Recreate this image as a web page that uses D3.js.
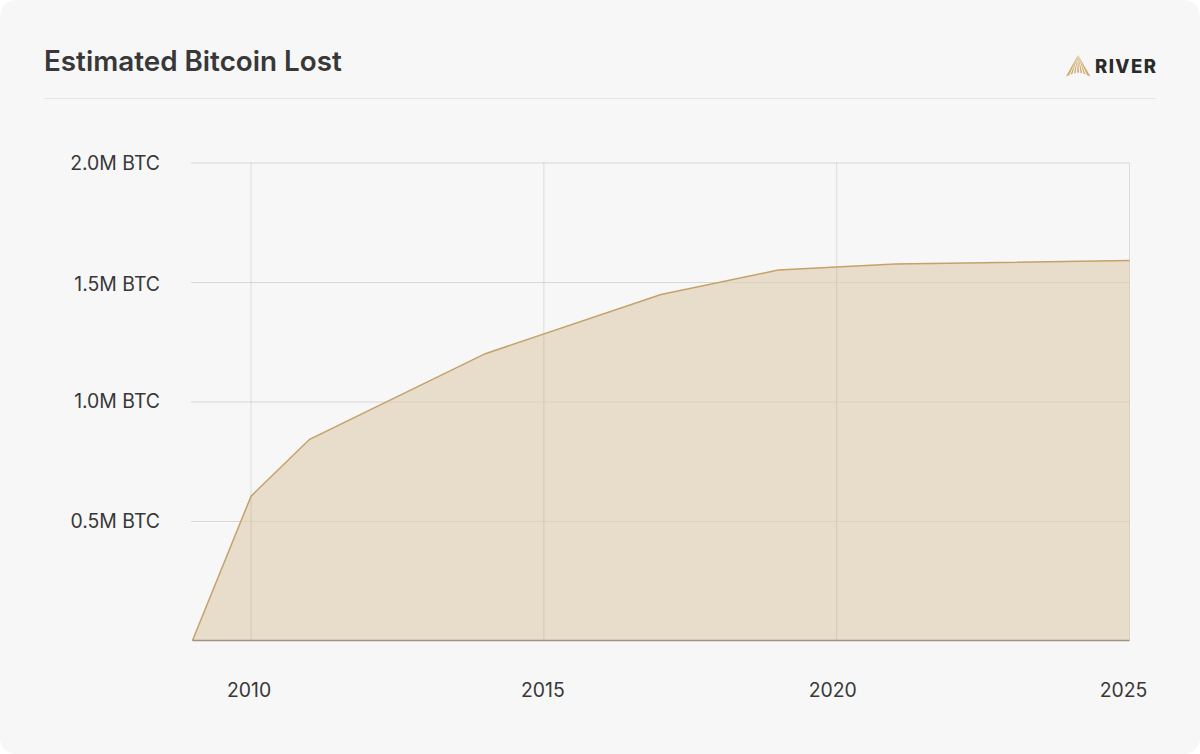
<!DOCTYPE html>
<html>
<head>
<meta charset="utf-8">
<script src="https://cdn.jsdelivr.net/npm/d3@7"></script>
<style>
  html, body { margin: 0; padding: 0; background: #ffffff; }
  svg { display: block; font-family: Inter, "Noto Sans", sans-serif; }
</style>
</head>
<body>
<svg id="chart"></svg>
<script>
var years = [2009, 2010, 2011, 2014, 2017, 2019, 2021, 2025];
var lost = [0, 0.604, 0.842, 1.2, 1.448, 1.55, 1.575, 1.59];
var yearTicks = [2010, 2015, 2020, 2025];
var lostTicks = [0.5, 1.0, 1.5, 2.0];
var lostTickLabels = ["0.5M BTC", "1.0M BTC", "1.5M BTC", "2.0M BTC"];

var svgWidth = 1200, svgHeight = 754;
var textColor = "#383838", gold = "#c4a26a", fillGold = "#e8dcca";

var svg = d3.select("#chart")
    .attr("width", svgWidth)
    .attr("height", svgHeight);

var x = d3.scaleLinear().domain([2009, 2025]).range([192.5, 1129.5]);
var y = d3.scaleLinear().domain([0, 2]).range([640.5, 162.5]);

// card
svg.append("rect")
    .attr("width", svgWidth)
    .attr("height", svgHeight)
    .attr("rx", 16)
    .attr("fill", "#f7f7f7");

// title and rule
svg.append("text")
    .attr("x", 44)
    .attr("y", 71)
    .attr("font-size", 27.8)
    .attr("font-weight", 600)
    .attr("fill", textColor)
    .text("Estimated Bitcoin Lost");

svg.append("line")
    .attr("x1", 44).attr("x2", 1156)
    .attr("y1", 98.5).attr("y2", 98.5)
    .attr("stroke", "#e6e6e6");

// logo
var logo = svg.append("g").attr("transform", "translate(1066,55)");
logo.append("path")
    .attr("d", "M12 0L24.5 21.5L21.2 20.2L12 0ZM12 0L19.6 19.4L17.8 18.8L12 0ZM12 0L16.2 18.2L14.6 17.9L12 0ZM12 0L13 17.7L11.2 17.7L12 0ZM12 0L9.6 18L8 18.4L12 0ZM12 0L6.4 18.9L4.6 19.6L12 0ZM12 0L3.2 20.2L0 21.5L12 0Z")
    .attr("fill", "#cfa96b");
svg.append("text")
    .attr("x", 1095)
    .attr("y", 72.5)
    .attr("font-size", 18.5)
    .attr("font-weight", 800)
    .attr("letter-spacing", 1.4)
    .attr("fill", "#2b2b2b")
    .text("RIVER");

// horizontal grid
var yAxis = d3.axisLeft(y)
    .tickValues(lostTicks)
    .tickSize(-(1129.5 - 191))
    .tickFormat(function(d, i) { return lostTickLabels[i]; });

var gy = svg.append("g")
    .attr("transform", "translate(191,0)")
    .call(yAxis);
gy.select(".domain").remove();
gy.selectAll("line").attr("stroke", "#e3e3e3");
gy.selectAll("text")
    .attr("x", -31)
    .attr("dy", function(d) { return d === 1.5 ? "0.42em" : (d === 1 ? "0.3em" : "0.35em"); })
    .attr("font-size", 19.4)
    .attr("font-family", "Inter")
    .attr("fill", textColor);

// area and line
var area = d3.area()
    .x(function(d, i) { return x(years[i]); })
    .y0(y(0))
    .y1(function(d) { return y(d); });

var line = d3.line()
    .x(function(d, i) { return x(years[i]); })
    .y(function(d) { return y(d); });

svg.append("path")
    .datum(lost)
    .attr("d", area)
    .attr("fill", fillGold);

// horizontal grid stays faintly visible through the area
var gridOver = svg.append("g")
    .attr("transform", "translate(191,0)")
    .call(yAxis);
gridOver.select(".domain").remove();
gridOver.selectAll("text").remove();
gridOver.selectAll("line").attr("stroke", "#a8a08f").attr("stroke-opacity", 0.16);

// vertical grid on top of the area
var xAxis = d3.axisBottom(x)
    .tickValues(yearTicks)
    .tickSize(-(640.5 - 162.5))
    .tickFormat(d3.format("d"));

var gx = svg.append("g")
    .attr("transform", "translate(-0.5,640.5)")
    .call(xAxis);
gx.select(".domain").remove();
gx.selectAll("line").attr("stroke", "#a8a08f").attr("stroke-opacity", 0.3);
gx.selectAll("text")
    .attr("y", 50)
    .attr("dy", "0.35em")
    .attr("dx", function(d) { return d === 2025 ? -6 : (d === 2020 ? -4 : (d === 2015 ? -1 : -2)); })
    .attr("font-size", 19.4)
    .attr("font-family", "Inter")
    .attr("fill", textColor);

svg.append("path")
    .datum(lost)
    .attr("d", line)
    .attr("fill", "none")
    .attr("stroke", gold)
    .attr("stroke-width", 1.5);

// baseline
svg.append("line")
    .attr("x1", x(2009)).attr("x2", x(2025))
    .attr("y1", y(0)).attr("y2", y(0))
    .attr("stroke", "#a1937f")
    .attr("stroke-width", 1.5);
</script>
</body>
</html>
